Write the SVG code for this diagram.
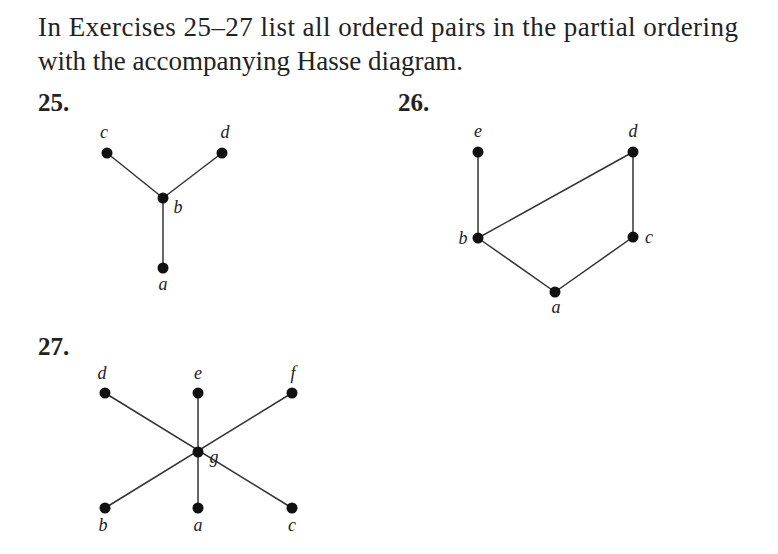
<svg xmlns="http://www.w3.org/2000/svg" width="778" height="554" viewBox="0 0 778 554">
<style>
.t{font-family:"Liberation Serif",serif;font-size:27px;fill:#222}
.n{font-family:"Liberation Serif",serif;font-size:25px;font-weight:bold;fill:#222}
.l{font-family:"Liberation Serif",serif;font-size:18px;font-style:italic;fill:#222;text-anchor:middle}
.e line{stroke:#333;stroke-width:1.5}
circle{fill:#111}
</style>
<rect width="778" height="554" fill="#fff"/>
<text class="t" x="38" y="36" textLength="700">In Exercises 25–27 list all ordered pairs in the partial ordering</text>
<text class="t" x="38" y="70">with the accompanying Hasse diagram.</text>
<text class="n" x="38" y="111">25.</text>
<text class="n" x="398" y="111">26.</text>
<text class="n" x="38" y="355">27.</text>
<g class="e" id="connectors">
<line x1="107" y1="153" x2="163" y2="198"/><line x1="222" y1="153" x2="163" y2="198"/><line x1="163" y1="198" x2="163" y2="268"/>
<line x1="478" y1="152" x2="478" y2="238"/><line x1="633" y1="152" x2="478" y2="238"/><line x1="633" y1="152" x2="633" y2="237"/><line x1="478" y1="238" x2="555" y2="292"/><line x1="633" y1="237" x2="555" y2="292"/>
<line x1="105" y1="393" x2="292" y2="508"/><line x1="292" y1="393" x2="105" y2="508"/><line x1="198" y1="393" x2="198" y2="508"/>
</g>
<g id="n25c"><circle cx="107" cy="153" r="5.5"/><text class="l" x="104" y="138">c</text></g>
<g id="n25d"><circle cx="222" cy="153" r="5.5"/><text class="l" x="225" y="138">d</text></g>
<g id="n25b"><circle cx="163" cy="198" r="5.5"/><text class="l" x="178" y="213">b</text></g>
<g id="n25a"><circle cx="163" cy="268" r="5.5"/><text class="l" x="163" y="290">a</text></g>
<g id="n26e"><circle cx="478" cy="152" r="5.5"/><text class="l" x="478" y="137">e</text></g>
<g id="n26d"><circle cx="633" cy="152" r="5.5"/><text class="l" x="633" y="137">d</text></g>
<g id="n26b"><circle cx="478" cy="238" r="5.5"/><text class="l" x="463" y="244">b</text></g>
<g id="n26c"><circle cx="633" cy="237" r="5.5"/><text class="l" x="649" y="243">c</text></g>
<g id="n26a"><circle cx="555" cy="292" r="5.5"/><text class="l" x="556" y="313">a</text></g>
<g id="n27d"><circle cx="105" cy="393" r="5.5"/><text class="l" x="102" y="379">d</text></g>
<g id="n27e"><circle cx="198" cy="393" r="5.5"/><text class="l" x="198" y="379">e</text></g>
<g id="n27f"><circle cx="292" cy="393" r="5.5"/><text class="l" x="293" y="379">f</text></g>
<g id="n27g"><circle cx="198" cy="452" r="5.5"/><text class="l" x="214" y="463">g</text></g>
<g id="n27b"><circle cx="105" cy="508" r="5.5"/><text class="l" x="103" y="531">b</text></g>
<g id="n27a"><circle cx="198" cy="508" r="5.5"/><text class="l" x="198" y="531">a</text></g>
<g id="n27c"><circle cx="292" cy="508" r="5.5"/><text class="l" x="292" y="531">c</text></g>
</svg>
